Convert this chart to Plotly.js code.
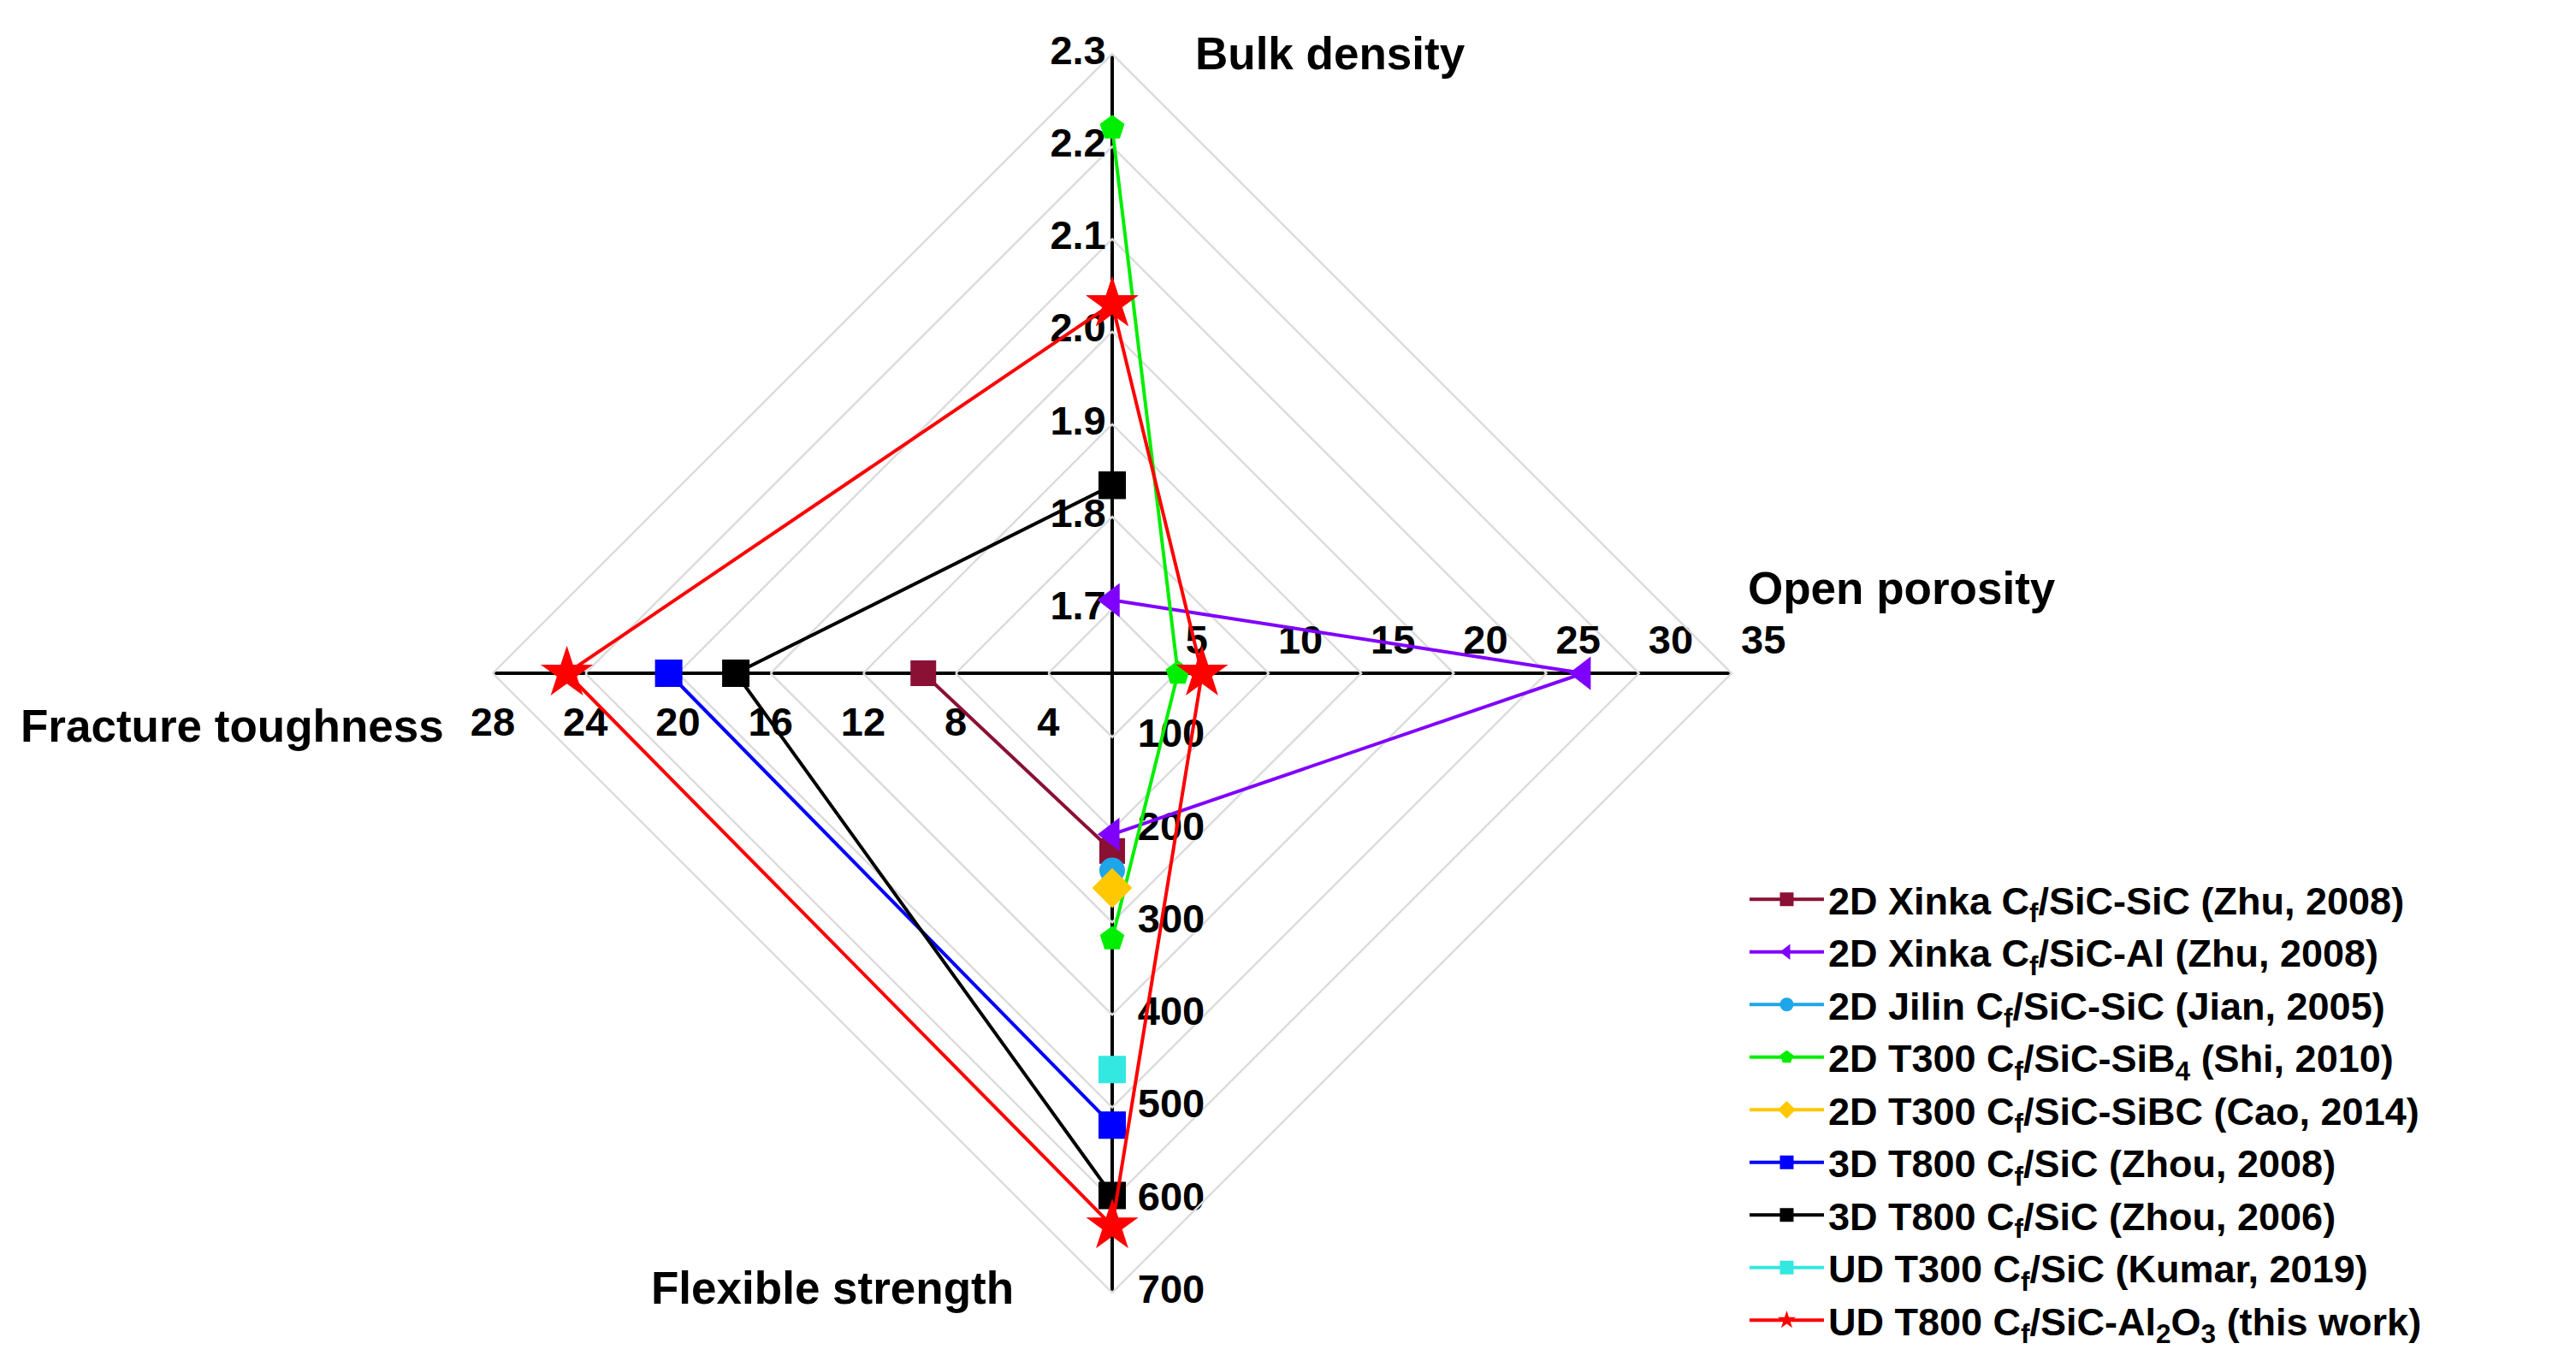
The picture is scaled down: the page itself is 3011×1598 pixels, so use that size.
<!DOCTYPE html>
<html>
<head>
<meta charset="utf-8">
<script src="https://cdn.plot.ly/plotly-3.0.1.min.js"></script>
<style>html,body{margin:0;padding:0;background:#fff;}#chart{width:3011px;height:1598px;}</style>
</head>
<body>
<div id="chart"></div>
<script>
// ---- axes (clockwise from top) ----
const categories = ['Bulk density', 'Open porosity', 'Flexible strength', 'Fracture toughness'];
const axisMin  = [1.6, 0, 0, 0];
const axisStep = [0.1, 5, 100, 4];

// ---- tick labels per axis ----
const bulkTicks = [1.7, 1.8, 1.9, 2.0, 2.1, 2.2, 2.3];
const bulkTickText = ['1.7', '1.8', '1.9', '2.0', '2.1', '2.2', '2.3'];
const porosityTicks = [5, 10, 15, 20, 25, 30, 35];
const strengthTicks = [100, 200, 300, 400, 500, 600, 700];
const toughnessTicks = [4, 8, 12, 16, 20, 24, 28];

// ---- series: [bulk density, open porosity, flexible strength, fracture toughness] ----
const seriesNames = [
  '2D Xinka C<sub>f</sub>/SiC-SiC (Zhu, 2008)',
  '2D Xinka C<sub>f</sub>/SiC-Al (Zhu, 2008)',
  '2D Jilin C<sub>f</sub>/SiC-SiC (Jian, 2005)',
  '2D T300 C<sub>f</sub>/SiC-SiB<sub>4</sub> (Shi, 2010)',
  '2D T300 C<sub>f</sub>/SiC-SiBC (Cao, 2014)',
  '3D T800 C<sub>f</sub>/SiC (Zhou, 2008)',
  '3D T800 C<sub>f</sub>/SiC (Zhou, 2006)',
  'UD T300 C<sub>f</sub>/SiC (Kumar, 2019)',
  'UD T800 C<sub>f</sub>/SiC-Al<sub>2</sub>O<sub>3</sub> (this work)'
];
const xinkaSiC   = [null, null, 223, 9.4];
const xinkaAl    = [1.71, 27.0, 205, null];
const jilinSiC   = [null, null, 244, null];
const t300SiB4   = [2.22, 5.1, 318, null];
const t300SiBC   = [null, null, 263, null];
const t800Zhou08 = [null, null, 519, 20.4];
const t800Zhou06 = [1.834, null, 595, 17.5];
const udT300     = [null, null, 459, null];
const udT800This = [2.03, 6.4, 628, 24.8];

const seriesValues = [xinkaSiC, xinkaAl, jilinSiC, t300SiB4, t300SiBC, t800Zhou08, t800Zhou06, udT300, udT800This];
const seriesColors = ['#8a1034', '#8000ff', '#1ea6ea', '#00ee00', '#ffc800', '#0000ff', '#000000', '#33e8e0', '#ff0000'];
const seriesSymbols = ['square', 'triangle-left', 'circle', 'pentagon', 'diamond', 'square', 'square', 'square', 'star'];
const seriesSizes = [30, 34, 30, 30, 36, 32, 32, 32, 46];

function norm(i, v) { return (v === null) ? null : (v - axisMin[i]) / axisStep[i]; }

const FONT = 'Liberation Sans, Arial, sans-serif';
const traces = [];

seriesValues.forEach(function (vals, s) {
  const r = vals.map(function (v, i) { return norm(i, v); });
  r.push(r[0]);
  const th = categories.concat([categories[0]]);
  traces.push({
    type: 'scatterpolar',
    mode: 'lines+markers',
    name: seriesNames[s],
    r: r,
    theta: th,
    connectgaps: false,
    line: {color: seriesColors[s], width: 4},
    marker: {color: seriesColors[s], symbol: seriesSymbols[s], size: seriesSizes[s], line: {width: 0}},
    cliponaxis: false
  });
});

function tickTrace(axisIndex, vals, labels, pos, msize) {
  return {
    type: 'scatterpolar',
    mode: 'markers+text',
    r: vals.map(function (v) { return norm(axisIndex, v); }),
    theta: vals.map(function () { return categories[axisIndex]; }),
    text: labels,
    textposition: pos,
    textfont: {family: FONT, size: 47, color: '#000', weight: 'bold'},
    marker: {size: msize, opacity: 0},
    showlegend: false,
    hoverinfo: 'skip',
    cliponaxis: false
  };
}

const tickTraces = [
  tickTrace(0, bulkTicks, bulkTickText, 'middle left', 10),
  tickTrace(1, porosityTicks, porosityTicks.map(String), 'top right', 16),
  tickTrace(2, strengthTicks, strengthTicks.map(String), 'middle right', 46),
  tickTrace(3, toughnessTicks, toughnessTicks.map(String), 'bottom center', 58)
];

const data = tickTraces.concat(traces);

const titleFont = {family: FONT, size: 53, color: '#000', weight: 'bold'};
const layout = {
  width: 3011,
  height: 1598,
  margin: {l: 0, r: 0, t: 0, b: 0},
  paper_bgcolor: '#ffffff',
  showlegend: true,
  polar: {
    domain: {x: [0.1913, 0.6722], y: [0.0544, 0.9606]},
    bgcolor: '#ffffff',
    gridshape: 'linear',
    hole: 0,
    radialaxis: {
      range: [0.31, 7],
      tickvals: [1, 2, 3, 4, 5, 6, 7],
      showticklabels: false,
      ticks: '',
      showline: false,
      gridcolor: '#dcdcdc',
      gridwidth: 2.5
    },
    angularaxis: {
      type: 'category',
      categoryarray: categories,
      rotation: 90,
      direction: 'clockwise',
      showticklabels: false,
      ticks: '',
      showline: true,
      linecolor: '#dcdcdc',
      linewidth: 2.5,
      gridcolor: '#000000',
      gridwidth: 4
    }
  },
  legend: {
    x: 0.6775,
    y: 0.3645,
    xanchor: 'left',
    yanchor: 'top',
    bgcolor: 'rgba(0,0,0,0)',
    borderwidth: 0,
    itemwidth: 87,
    font: {family: FONT, size: 45, color: '#000', weight: 'bold'},
    tracegroupgap: 0
  },
  annotations: [
    {text: 'Bulk density', xref: 'paper', yref: 'paper', x: 0.5164, y: 0.9612, xanchor: 'center', yanchor: 'middle', showarrow: false, font: titleFont},
    {text: 'Open porosity', xref: 'paper', yref: 'paper', x: 0.7383, y: 0.5700, xanchor: 'center', yanchor: 'middle', showarrow: false, font: titleFont},
    {text: 'Fracture toughness', xref: 'paper', yref: 'paper', x: 0.0903, y: 0.4690, xanchor: 'center', yanchor: 'middle', showarrow: false, font: titleFont},
    {text: 'Flexible strength', xref: 'paper', yref: 'paper', x: 0.3231, y: 0.0580, xanchor: 'center', yanchor: 'middle', showarrow: false, font: titleFont}
  ]
};

Plotly.newPlot('chart', data, layout, {displayModeBar: false, staticPlot: true});
</script>
</body>
</html>
